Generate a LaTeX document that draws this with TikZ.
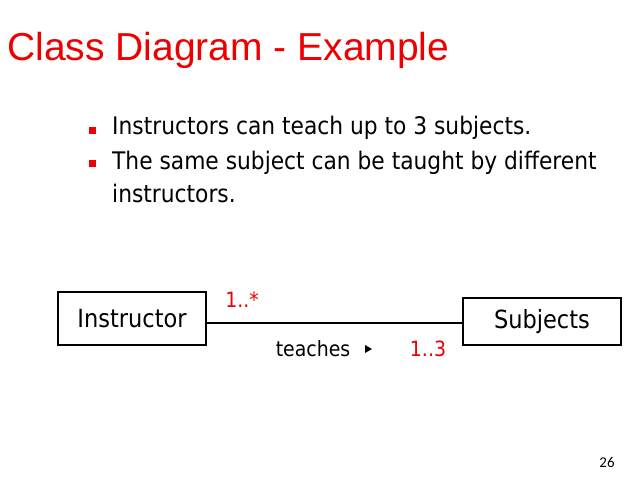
\documentclass[tikz,border=0pt]{standalone}
\usepackage{fontspec}
\setmainfont{DejaVu Sans Condensed}
\newfontfamily\titlefont{Liberation Sans}
\newfontfamily\numfont{Carlito}
\usepackage{tikz}

\definecolor{slidered}{HTML}{EE0000}

\tikzset{
  classbox/.style = {draw, line width=1.3pt, minimum height=53pt, inner sep=0pt},
  mult/.style = {text=slidered, font=\fontsize{21}{21}\selectfont},
  bullet/.style = {fill=slidered, minimum size=7pt, inner sep=0pt},
  bodytext/.style = {anchor=base west, inner sep=0pt, font=\fontsize{24.2}{24.2}\selectfont}
}

\begin{document}
\begin{tikzpicture}[x=1pt, y=-1pt]
  \useasboundingbox (0,0) rectangle (638,478);
  % title
  \node[anchor=base west, inner sep=0pt, text=slidered, font=\titlefont\fontsize{39}{39}\selectfont] (title) at (7,61) {Class Diagram - Example};
  % bullets
  \node[bullet] (b1) at (92,131) {};
  \node[bullet] (b2) at (92,164) {};
  \node[bodytext] (t1) at (112,135) {Instructors can teach up to 3 subjects.};
  \node[bodytext] (t2) at (112,170) {The same subject can be taught by different};
  \node[bodytext] (t3) at (112,203) {instructors.};
  % classes
  \node[classbox, minimum width=148pt, font=\fontsize{25}{25}\selectfont] (instr) at (132,318.5) {Instructor};
  \node[classbox, minimum width=158pt, minimum height=47pt, font=\fontsize{25}{25}\selectfont] (subj) at (542,321.5) {Subjects};
  \draw[line width=1.3pt] (instr.east |- 0,323) coordinate (p) -- (subj.west |- p);
  % association labels
  \node[mult] (m1) at (242,300) {1..*};
  \node[mult] (m2) at (428,349) {1..3};
  \node[font=\fontsize{21}{21}\selectfont] (lbl) at (313,349) {teaches};
  \fill (365,345) -- (372,349) -- (365,353) -- cycle;
  % page number
  \node[font=\numfont\fontsize{15}{15}\selectfont] (page) at (607,462) {26};
\end{tikzpicture}
\end{document}
